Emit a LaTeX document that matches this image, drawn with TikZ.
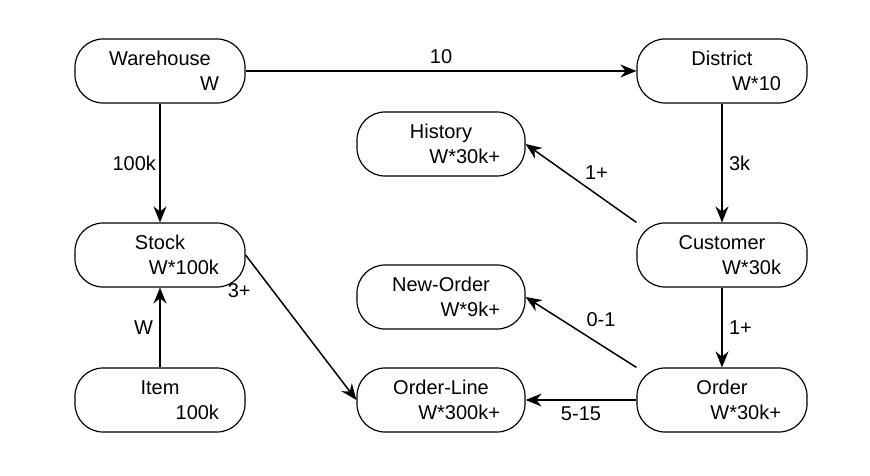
\documentclass[tikz,border=0pt]{standalone}
\usepackage{fontspec}
\setmainfont{Liberation Sans}
\usetikzlibrary{arrows.meta}
\usetikzlibrary{positioning}
\newcommand{\tbl}[2]{\makebox[150pt][c]{#1}\\\makebox[150pt][r]{#2\hspace*{16pt}}}
\begin{document}
\begin{tikzpicture}[x=1pt,y=-1pt,-{Stealth[length=16pt,width=13pt]},line width=1.5pt,
  font=\fontsize{20}{25}\selectfont,
  table node/.style={draw,rounded corners=28pt,minimum width=170pt,minimum height=64pt,align=center,inner sep=0pt,line width=1.2pt}]
	\useasboundingbox (0,0) rectangle (870,476);
	
	\node[table node] at (160,71) (warehouse) {\tbl{Warehouse}{W}};
	\node[table node] at (722,71) (district) {\tbl{District}{W*10}};
	\node[table node,minimum width=168pt] at (441,144) (history) {\tbl{History}{W*30k+}};
	\node[table node] at (160,255) (stock) {\tbl{Stock}{W*100k}};
	\node[table node] at (722,255) (customer) {\tbl{Customer}{W*30k}};
	\node[table node,minimum width=168pt] at (441,297) (neworder) {\tbl{New-Order}{W*9k+}};
	\node[table node] at (160,400) (item) {\tbl{Item}{100k}};
	\node[table node,minimum width=168pt] at (441,400) (orderline) {\tbl{Order-Line}{W*300k+}};
	\node[table node] at (722,400) (order) {\tbl{Order}{W*30k+}};
	
	\path
	(warehouse) edge node[above=3pt] {10} (district)
	(warehouse) edge node[left] {100k} (stock)
	(district) edge node[right=3pt] {3k} (customer)
	(customer.north west) edge node[above right] {1+} (history.east)
	(item) edge node[left=3pt] {W} (stock)
	(stock.east) edge node[pos=0.1,below left=10pt and 2pt] {3+} (orderline.west)
	(customer) edge node[right=3pt] {1+} (order)
	(order.north west) edge node[above right=2pt] {0-1} (neworder.east)
	(order.west) edge node[below=3pt] {5-15} (orderline.east)
	;
	
\end{tikzpicture}
\end{document}
